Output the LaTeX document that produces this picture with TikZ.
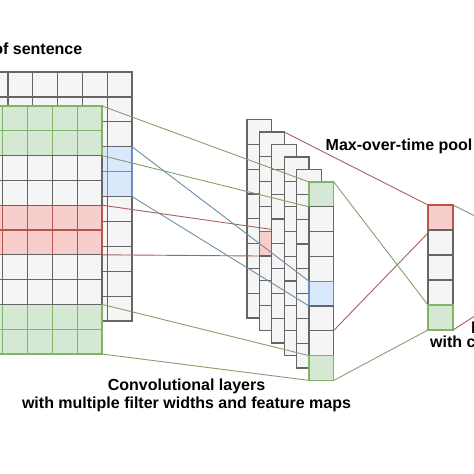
\documentclass[tikz,border=0pt]{standalone}
\usepackage{fontspec}
\setmainfont{Liberation Sans}
\usepackage{xcolor}

\definecolor{cellfill}{HTML}{F5F5F5}
\definecolor{cellline}{HTML}{666666}
\definecolor{greenfill}{HTML}{D5E8D4}
\definecolor{greenline}{HTML}{82B366}
\definecolor{redfill}{HTML}{F8CECC}
\definecolor{redline}{HTML}{B85450}
\definecolor{bluefill}{HTML}{DAE8FC}
\definecolor{blueline}{HTML}{6C8EBF}

\begin{document}
\begin{tikzpicture}[x=1pt, y=-1pt,
    cell/.style={draw=cellline, fill=cellfill, line width=1.2pt},
    greencell/.style={draw=greenline, fill=greenfill, line width=1.2pt},
    redcell/.style={draw=redline, fill=redfill, line width=1.2pt},
    bluecell/.style={draw=blueline, fill=bluefill, line width=1.2pt},
    greenlink/.style={draw=greenline!65!gray, line width=0.9pt},
    redlink/.style={draw=redline!70!gray, line width=0.9pt},
    bluelink/.style={draw=blueline!70!gray, line width=0.9pt},
    caption/.style={font=\fontsize{16}{18}\selectfont\bfseries, inner sep=0pt}]

    \useasboundingbox (0,0) rectangle (474,474);
    \clip (0,0) rectangle (474,474);

    % Back matrix (blue rows first, grey rows on top)
    \foreach \r in {3,4}
        \foreach \c in {0,...,8}
            \draw[bluecell] ({-91.2+24.8*\c},{72+24.9*\r}) rectangle ++(24.8,24.9);
    \foreach \r in {0,1,2,5,6,7,8,9}
        \foreach \c in {0,...,8}
            \draw[cell] ({-91.2+24.8*\c},{72+24.9*\r}) rectangle ++(24.8,24.9);

    % Front matrix
    \foreach \r/\sty in {0/greencell, 1/greencell, 4/redcell, 5/redcell, 8/greencell, 9/greencell}
        \foreach \c in {0,...,8}
            \draw[\sty] ({-121.2+24.8*\c},{106+24.8*\r}) rectangle ++(24.8,24.8);
    \foreach \r in {2,3,6,7}
        \foreach \c in {0,...,8}
            \draw[cell] ({-121.2+24.8*\c},{106+24.8*\r}) rectangle ++(24.8,24.8);

    % Coordinates for the connectors
    \coordinate (FG1) at (102,106);     % front matrix, green rows
    \coordinate (FG2) at (102,155.6);
    \coordinate (FR1) at (102,205.2);   % front matrix, red rows
    \coordinate (FR2) at (102,254.8);
    \coordinate (FG3) at (102,304.4);
    \coordinate (FG4) at (102,354);
    \coordinate (BB1) at (132,146.7);   % back matrix, blue rows
    \coordinate (BB2) at (132,196.5);
    \coordinate (MR1) at (284.2,231.2); % red cell in map 1
    \coordinate (MR2) at (259.4,256);
    \coordinate (MT1) at (284.2,132);   % top of map 1
    \coordinate (MG1) at (309,182);     % front map
    \coordinate (MG2) at (309,206.8);
    \coordinate (MB1) at (309,281.2);
    \coordinate (MB2) at (309,306);
    \coordinate (MG3) at (309,355.6);
    \coordinate (MG4) at (309,380.4);
    \coordinate (ME1) at (333.8,182);
    \coordinate (ME2) at (333.8,330.4);
    \coordinate (ME3) at (333.8,380.4);
    \coordinate (PR1) at (428,205);     % pooled vector
    \coordinate (PR2) at (428,233);
    \coordinate (PG1) at (428,305);
    \coordinate (PG2) at (428,330);
    \coordinate (PE1) at (453,205);
    \coordinate (PE2) at (453,330);
    \coordinate (out1) at (474,215.5);
    \coordinate (out2) at (474,316.5);

    % Feature maps 0 and 1
    \foreach \k in {0,1}
        \foreach \r in {0,...,7} {
            \def\sty{cell}
            \ifnum\k=1 \ifnum\r=4 \def\sty{redcell}\fi\fi
            \draw[\sty] ({247+12.4*\k},{119.5+12.5*\k+24.8*\r}) rectangle ++(24.8,24.8);
        }

    % Red filter lines (under the later maps)
    \draw[redlink] (FR1) -- (MR1);
    \draw[redlink] (FR2) -- (MR2);

    % Feature maps 2 to 5
    \foreach \k in {2,...,5}
        \foreach \r in {0,...,7} {
            \def\sty{cell}
            \ifnum\k=5 \ifnum\r=0 \def\sty{greencell}\fi\fi
            \ifnum\k=5 \ifnum\r=4 \def\sty{bluecell}\fi\fi
            \ifnum\k=5 \ifnum\r=7 \def\sty{greencell}\fi\fi
            \draw[\sty] ({247+12.4*\k},{119.5+12.5*\k+24.8*\r}) rectangle ++(24.8,24.8);
        }

    % Pooled vector
    \draw[redcell] (428,205) rectangle ++(25,25);
    \foreach \r in {1,2,3}
        \draw[cell] (428,{205+25*\r}) rectangle ++(25,25);
    \draw[greencell] (428,305) rectangle ++(25,25);

    % Filter lines
    \draw[greenlink] (FG1) -- (MG1);
    \draw[greenlink] (FG2) -- (MG2);
    \draw[bluelink] (BB1) -- (MB1);
    \draw[bluelink] (BB2) -- (MB2);
    \draw[greenlink] (FG3) -- (MG3);
    \draw[greenlink] (FG4) -- (MG4);

    % Pooling lines
    \draw[redlink] (MT1) -- (PR1);
    \draw[redlink] (ME2) -- (PR2);
    \draw[greenlink] (ME1) -- (PG1);
    \draw[greenlink] (ME3) -- (PG2);
    \draw[greenlink] (PE1) -- (out1);
    \draw[redlink] (PE2) -- (out2);

    % Labels
    \node[caption, anchor=base east] (sentence) at (82.5,54.5) {of sentence};
    \node[caption, anchor=base west] (pool) at (325.5,150.5) {Max-over-time pool};
    \node[caption, anchor=base] (conv) at (186.5,390) {Convolutional layers};
    \node[caption, anchor=base] (convsub) at (186.5,408.5) {with multiple filter widths and feature maps};
    \node[caption, anchor=base west] (fchead) at (471,333) {l};
    \node[caption, anchor=base west] (fcsub) at (430,347) {with c};

\end{tikzpicture}
\end{document}
